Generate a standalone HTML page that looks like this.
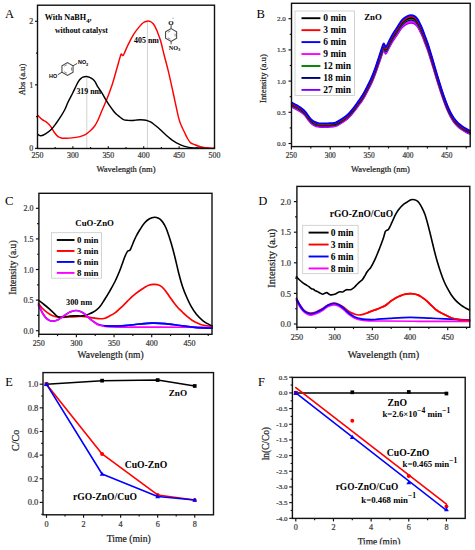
<!DOCTYPE html>
<html><head><meta charset="utf-8"><style>
html,body{margin:0;padding:0;background:#fff;width:475px;height:550px;overflow:hidden;}
svg{display:block;font-family:"Liberation Serif",serif;}
</style></head><body>
<svg width="475" height="550" viewBox="0 0 475 550">
<rect width="475" height="550" fill="#fff"/>
<text x="5" y="18.4" font-size="12.5" text-anchor="start" font-weight="normal" fill="#000" font-family="Liberation Serif">A</text>
<line x1="86.8" y1="77.5" x2="86.8" y2="148.5" stroke="#d2d2d2" stroke-width="1.0"/>
<line x1="147.4" y1="21.5" x2="147.4" y2="148.5" stroke="#d2d2d2" stroke-width="1.0"/>
<path d="M38,115.6 C38.72,116.28 40.95,118.67 42.3,119.7 C43.65,120.73 44.93,120.97 46.1,121.8 C47.27,122.63 48.35,123.63 49.3,124.7 C50.25,125.77 50.85,126.77 51.8,128.2 C52.75,129.63 53.95,131.88 55,133.3 C56.05,134.72 57.05,135.92 58.1,136.7 C59.15,137.48 59.98,137.75 61.3,138 C62.62,138.25 63.9,138.27 66,138.2 C68.1,138.13 71.57,137.87 73.9,137.6 C76.23,137.33 78.1,137.1 80,136.6 C81.9,136.1 83.63,135.53 85.3,134.6 C86.97,133.67 88.43,132.43 90,131 C91.57,129.57 93.28,128 94.7,126 C96.12,124 97.23,121.7 98.5,119 C99.77,116.3 100.9,113.13 102.3,109.8 C103.7,106.47 105.22,103.32 106.9,99 C108.58,94.68 110.75,88.95 112.4,83.9 C114.05,78.85 115.48,73.28 116.8,68.7 C118.12,64.12 119.55,58.85 120.3,56.4 C121.05,53.95 120.88,54.12 121.3,54 C121.72,53.88 122.25,55.93 122.8,55.7 C123.35,55.47 123.67,54.53 124.6,52.6 C125.53,50.67 126.82,47.25 128.4,44.1 C129.98,40.95 132.2,36.7 134.1,33.7 C136,30.7 138.23,27.97 139.8,26.1 C141.37,24.23 142.3,23.32 143.5,22.5 C144.7,21.68 145.92,21.38 147,21.2 C148.08,21.02 149,21 150,21.4 C151,21.8 152.17,22.73 153,23.6 C153.83,24.47 154.28,25.27 155,26.6 C155.72,27.93 156.37,29.23 157.3,31.6 C158.23,33.97 159.45,36.87 160.6,40.8 C161.75,44.73 162.93,50.23 164.2,55.2 C165.47,60.17 166.75,64.55 168.2,70.6 C169.65,76.65 171.17,83.67 172.9,91.5 C174.63,99.33 177.17,111.85 178.6,117.6 C180.03,123.35 180.48,123.47 181.5,126 C182.52,128.53 183.7,130.72 184.7,132.8 C185.7,134.88 186.5,136.82 187.5,138.5 C188.5,140.18 189.53,141.88 190.7,142.9 C191.87,143.92 193.15,144.05 194.5,144.6 C195.85,145.15 197.22,145.73 198.8,146.2 C200.38,146.67 202.32,147.12 204,147.4 C205.68,147.68 207.23,147.77 208.9,147.9 C210.57,148.03 213.15,148.15 214,148.2" fill="none" stroke="#ff0000" stroke-width="1.45" stroke-linejoin="round" stroke-linecap="round"/>
<path d="M38,134.5 C38.5,134.72 39.75,135.9 41,135.8 C42.25,135.7 43.8,134.95 45.5,133.9 C47.2,132.85 49.42,131.28 51.2,129.5 C52.98,127.72 54.52,125.52 56.2,123.2 C57.88,120.88 59.83,117.92 61.3,115.6 C62.77,113.28 63.85,111.6 65,109.3 C66.15,107 66.93,104.48 68.2,101.8 C69.47,99.12 71.27,95.88 72.6,93.2 C73.93,90.52 75.22,87.68 76.2,85.7 C77.18,83.72 77.78,82.43 78.5,81.3 C79.22,80.17 79.77,79.58 80.5,78.9 C81.23,78.22 81.93,77.6 82.9,77.2 C83.87,76.8 85.17,76.48 86.3,76.5 C87.43,76.52 88.68,76.9 89.7,77.3 C90.72,77.7 91.52,78.18 92.4,78.9 C93.28,79.62 94.07,80.22 95,81.6 C95.93,82.98 96.9,85.42 98,87.2 C99.1,88.98 100.38,90.37 101.6,92.3 C102.82,94.23 104.08,96.73 105.3,98.8 C106.52,100.87 107.68,102.87 108.9,104.7 C110.12,106.53 111.38,108.23 112.6,109.8 C113.82,111.37 115,112.9 116.2,114.1 C117.4,115.3 118.58,116.08 119.8,117 C121.02,117.92 122.15,119.03 123.5,119.6 C124.85,120.17 126.48,120.25 127.9,120.4 C129.32,120.55 130.65,120.55 132,120.5 C133.35,120.45 134.63,120.22 136,120.1 C137.37,119.98 138.87,119.82 140.2,119.8 C141.53,119.78 142.82,119.87 144,120 C145.18,120.13 146.13,120.23 147.3,120.6 C148.47,120.97 149.82,121.52 151,122.2 C152.18,122.88 153.15,123.73 154.4,124.7 C155.65,125.67 157.17,126.83 158.5,128 C159.83,129.17 161.07,130.45 162.4,131.7 C163.73,132.95 165.15,134.32 166.5,135.5 C167.85,136.68 169.17,137.78 170.5,138.8 C171.83,139.82 173.15,140.75 174.5,141.6 C175.85,142.45 177.27,143.23 178.6,143.9 C179.93,144.57 181.15,145.1 182.5,145.6 C183.85,146.1 185.28,146.57 186.7,146.9 C188.12,147.23 189.32,147.42 191,147.6 C192.68,147.78 194.8,147.9 196.8,148 C198.8,148.1 201.97,148.17 203,148.2" fill="none" stroke="#000" stroke-width="1.45" stroke-linejoin="round" stroke-linecap="round"/>
<rect x="37.5" y="5.2" width="177" height="143.3" fill="none" stroke="#111" stroke-width="1.4"/>
<line x1="37.5" y1="148.5" x2="37.5" y2="146.3" stroke="#111" stroke-width="1.15"/>
<line x1="72.9" y1="148.5" x2="72.9" y2="146.3" stroke="#111" stroke-width="1.15"/>
<line x1="108.3" y1="148.5" x2="108.3" y2="146.3" stroke="#111" stroke-width="1.15"/>
<line x1="143.7" y1="148.5" x2="143.7" y2="146.3" stroke="#111" stroke-width="1.15"/>
<line x1="179.1" y1="148.5" x2="179.1" y2="146.3" stroke="#111" stroke-width="1.15"/>
<line x1="214.5" y1="148.5" x2="214.5" y2="146.3" stroke="#111" stroke-width="1.15"/>
<line x1="55.2" y1="148.5" x2="55.2" y2="146.9" stroke="#111" stroke-width="1.15"/>
<line x1="90.6" y1="148.5" x2="90.6" y2="146.9" stroke="#111" stroke-width="1.15"/>
<line x1="126" y1="148.5" x2="126" y2="146.9" stroke="#111" stroke-width="1.15"/>
<line x1="161.4" y1="148.5" x2="161.4" y2="146.9" stroke="#111" stroke-width="1.15"/>
<line x1="196.8" y1="148.5" x2="196.8" y2="146.9" stroke="#111" stroke-width="1.15"/>
<line x1="37.5" y1="148.4" x2="35" y2="148.4" stroke="#111" stroke-width="1.15"/>
<line x1="37.5" y1="84.85" x2="35" y2="84.85" stroke="#111" stroke-width="1.15"/>
<line x1="37.5" y1="21.3" x2="35" y2="21.3" stroke="#111" stroke-width="1.15"/>
<line x1="37.5" y1="116.62" x2="36" y2="116.62" stroke="#111" stroke-width="1.15"/>
<line x1="37.5" y1="53.08" x2="36" y2="53.08" stroke="#111" stroke-width="1.15"/>
<text x="37.5" y="158" font-size="7.9" text-anchor="middle" font-weight="normal" fill="#3a3a3a" font-family="Liberation Serif" stroke="#3a3a3a" stroke-width="0.22">250</text>
<text x="72.9" y="158" font-size="7.9" text-anchor="middle" font-weight="normal" fill="#3a3a3a" font-family="Liberation Serif" stroke="#3a3a3a" stroke-width="0.22">300</text>
<text x="108.3" y="158" font-size="7.9" text-anchor="middle" font-weight="normal" fill="#3a3a3a" font-family="Liberation Serif" stroke="#3a3a3a" stroke-width="0.22">350</text>
<text x="143.7" y="158" font-size="7.9" text-anchor="middle" font-weight="normal" fill="#3a3a3a" font-family="Liberation Serif" stroke="#3a3a3a" stroke-width="0.22">400</text>
<text x="179.1" y="158" font-size="7.9" text-anchor="middle" font-weight="normal" fill="#3a3a3a" font-family="Liberation Serif" stroke="#3a3a3a" stroke-width="0.22">450</text>
<text x="214.5" y="158" font-size="7.9" text-anchor="middle" font-weight="normal" fill="#3a3a3a" font-family="Liberation Serif" stroke="#3a3a3a" stroke-width="0.22">500</text>
<text x="33.2" y="151.1" font-size="8" text-anchor="end" font-weight="normal" fill="#3a3a3a" font-family="Liberation Serif" stroke="#3a3a3a" stroke-width="0.22">0</text>
<text x="33.2" y="87.55" font-size="8" text-anchor="end" font-weight="normal" fill="#3a3a3a" font-family="Liberation Serif" stroke="#3a3a3a" stroke-width="0.22">1</text>
<text x="33.2" y="24" font-size="8" text-anchor="end" font-weight="normal" fill="#3a3a3a" font-family="Liberation Serif" stroke="#3a3a3a" stroke-width="0.22">2</text>
<text x="126" y="171.8" font-size="8.5" text-anchor="middle" font-weight="normal" fill="#222" font-family="Liberation Serif" stroke="#222" stroke-width="0.22">Wavelength (nm)</text>
<text x="24.6" y="79.5" font-size="8.5" text-anchor="middle" font-weight="normal" fill="#222" font-family="Liberation Serif" transform="rotate(-90 24.6 79.5)" stroke="#222" stroke-width="0.22">Abs (a.u)</text>
<text x="44.7" y="20.3" font-size="8.2" font-weight="bold" font-family="Liberation Serif">With NaBH<tspan font-size="6.6" dy="2.3">4</tspan><tspan dy="-2.3">,</tspan></text>
<text x="55" y="32.5" font-size="7.75" text-anchor="start" font-weight="bold" fill="#000" font-family="Liberation Serif">without catalyst</text>
<text x="76.4" y="93.7" font-size="7.9" text-anchor="start" font-weight="bold" fill="#000" font-family="Liberation Serif">319 nm</text>
<text x="134.1" y="42.6" font-size="7.9" text-anchor="start" font-weight="bold" fill="#000" font-family="Liberation Serif">405 nm</text>
<path d="M67.5,62.6 L73.04,65.8 L73.04,72.2 L67.5,75.4 L61.96,72.2 L61.96,65.8 Z" fill="none" stroke="#444" stroke-width="1.05"/>
<line x1="64.23" y1="66.28" x2="66.78" y2="64.81" stroke="#777" stroke-width="0.85"/>
<line x1="71.49" y1="67.53" x2="71.49" y2="70.47" stroke="#777" stroke-width="0.85"/>
<line x1="66.78" y1="73.19" x2="64.23" y2="71.72" stroke="#777" stroke-width="0.85"/>
<line x1="61.96" y1="72.2" x2="57.8" y2="74.8" stroke="#444" stroke-width="1.0"/>
<line x1="73.04" y1="65.8" x2="77.2" y2="63.4" stroke="#444" stroke-width="1.0"/>
<text x="49" y="77.6" font-size="5.4" text-anchor="start" font-weight="bold" fill="#000" font-family="Liberation Sans">HO</text>
<text x="78" y="64.4" font-size="5.4" font-weight="bold" font-family="Liberation Sans">NO<tspan font-size="4" dy="1.3">2</tspan></text>
<path d="M171.1,28.65 L176.64,31.85 L176.64,38.25 L171.1,41.45 L165.56,38.25 L165.56,31.85 Z" fill="none" stroke="#444" stroke-width="1.05"/>
<line x1="167.83" y1="32.33" x2="170.38" y2="30.86" stroke="#777" stroke-width="0.85"/>
<line x1="175.09" y1="33.58" x2="175.09" y2="36.52" stroke="#777" stroke-width="0.85"/>
<line x1="170.38" y1="39.24" x2="167.83" y2="37.77" stroke="#777" stroke-width="0.85"/>
<line x1="171.1" y1="28.65" x2="171.1" y2="24.8" stroke="#444" stroke-width="1.0"/>
<line x1="171.1" y1="41.45" x2="171.1" y2="44.3" stroke="#444" stroke-width="1.0"/>
<text x="171" y="24.6" font-size="6.9" text-anchor="middle" font-weight="bold" fill="#000" font-family="Liberation Serif">O</text>
<line x1="172.3" y1="18.2" x2="173.8" y2="18.2" stroke="#555" stroke-width="0.5"/>
<text x="168.8" y="49.6" font-size="6.2" font-weight="bold" font-family="Liberation Serif">NO<tspan font-size="4.6" dy="1.3">3</tspan></text>
<text x="256.5" y="18.2" font-size="12.6" text-anchor="start" font-weight="normal" fill="#000" font-family="Liberation Serif">B</text>
<path d="M291.8,106.89 C292.67,107.34 295.55,108.81 297,109.62 C298.45,110.43 299.45,111.05 300.5,111.76 C301.55,112.48 302.38,113.1 303.3,113.91 C304.22,114.72 305.13,115.61 306,116.64 C306.87,117.66 307.58,118.91 308.5,120.05 C309.42,121.19 310.48,122.54 311.5,123.46 C312.52,124.39 313.52,125.07 314.6,125.61 C315.68,126.14 316.77,126.45 318,126.68 C319.23,126.91 320.33,126.92 322,126.97 C323.67,127.02 325.75,127.1 328,126.97 C330.25,126.84 333.33,126.81 335.5,126.19 C337.67,125.57 339.12,124.41 341,123.27 C342.88,122.13 345.13,120.73 346.8,119.37 C348.47,118 349.63,116.61 351,115.08 C352.37,113.55 353.75,111.8 355,110.2 C356.25,108.61 357.33,107.12 358.5,105.52 C359.67,103.93 360.92,102.29 362,100.65 C363.08,99.01 364,97.45 365,95.68 C366,93.9 367,91.95 368,90.02 C369,88.09 370.1,85.97 371,84.07 C371.9,82.17 372.57,80.68 373.4,78.61 C374.23,76.55 375.15,74.05 376,71.69 C376.85,69.33 377.67,66.9 378.5,64.48 C379.33,62.05 380.28,59.28 381,57.16 C381.72,55.05 382.33,53 382.8,51.8 C383.27,50.6 383.47,49.95 383.8,49.95 C384.13,49.95 384.5,51.15 384.8,51.8 C385.1,52.45 385.23,53.85 385.6,53.85 C385.97,53.85 386.35,52.95 387,51.8 C387.65,50.65 388.67,48.5 389.5,46.93 C390.33,45.35 391.08,43.89 392,42.34 C392.92,40.8 394,39.17 395,37.66 C396,36.15 397,34.77 398,33.27 C399,31.78 400,29.94 401,28.69 C402,27.44 402.92,26.61 404,25.77 C405.08,24.92 406.33,24.11 407.5,23.62 C408.67,23.13 409.83,22.84 411,22.84 C412.17,22.84 413.42,23 414.5,23.62 C415.58,24.24 416.62,25.38 417.5,26.55 C418.38,27.72 419.07,29.25 419.8,30.64 C420.53,32.04 421.12,33.11 421.9,34.93 C422.68,36.75 423.55,39.11 424.5,41.56 C425.45,44.02 426.6,46.81 427.6,49.65 C428.6,52.5 429.53,55.55 430.5,58.63 C431.47,61.7 432.45,64.95 433.4,68.08 C434.35,71.22 435.25,74.36 436.2,77.44 C437.15,80.53 438.13,83.6 439.1,86.61 C440.07,89.61 441.05,92.69 442,95.48 C442.95,98.28 443.87,100.89 444.8,103.38 C445.73,105.86 446.65,108.22 447.6,110.4 C448.55,112.58 449.43,114.49 450.5,116.44 C451.57,118.39 452.72,120.38 454,122.1 C455.28,123.82 456.78,125.46 458.2,126.78 C459.62,128.09 461.2,129.12 462.5,130 C463.8,130.87 464.75,131.38 466,132.04 C467.25,132.71 469.33,133.67 470,133.99" fill="none" stroke="#8000ff" stroke-width="1.9" stroke-linejoin="round" stroke-linecap="round"/>
<path d="M291.8,106.19 C292.67,106.65 295.55,108.12 297,108.93 C298.45,109.75 299.45,110.37 300.5,111.09 C301.55,111.81 302.38,112.43 303.3,113.25 C304.22,114.06 305.13,114.96 306,115.99 C306.87,117.02 307.58,118.28 308.5,119.42 C309.42,120.56 310.48,121.92 311.5,122.85 C312.52,123.78 313.52,124.47 314.6,125.01 C315.68,125.55 316.77,125.86 318,126.08 C319.23,126.31 320.33,126.33 322,126.38 C323.67,126.43 325.75,126.51 328,126.38 C330.25,126.25 333.33,126.21 335.5,125.59 C337.67,124.97 339.12,123.8 341,122.65 C342.88,121.51 345.13,120.11 346.8,118.73 C348.47,117.36 349.63,115.96 351,114.42 C352.37,112.89 353.75,111.12 355,109.52 C356.25,107.92 357.33,106.42 358.5,104.82 C359.67,103.22 360.92,101.57 362,99.92 C363.08,98.27 364,96.7 365,94.92 C366,93.14 367,91.18 368,89.24 C369,87.29 370.1,85.17 371,83.26 C371.9,81.35 372.57,79.84 373.4,77.77 C374.23,75.7 375.15,73.18 376,70.81 C376.85,68.44 377.67,65.99 378.5,63.56 C379.33,61.13 380.28,58.33 381,56.21 C381.72,54.09 382.33,52.03 382.8,50.82 C383.27,49.61 383.47,48.96 383.8,48.96 C384.13,48.96 384.5,50.17 384.8,50.82 C385.1,51.47 385.23,52.88 385.6,52.88 C385.97,52.88 386.35,51.98 387,50.82 C387.65,49.66 388.67,47.5 389.5,45.92 C390.33,44.34 391.08,42.87 392,41.31 C392.92,39.76 394,38.13 395,36.61 C396,35.09 397,33.7 398,32.2 C399,30.7 400,28.85 401,27.59 C402,26.34 402.92,25.5 404,24.65 C405.08,23.8 406.33,22.99 407.5,22.5 C408.67,22.01 409.83,21.71 411,21.71 C412.17,21.71 413.42,21.88 414.5,22.5 C415.58,23.12 416.62,24.26 417.5,25.44 C418.38,26.61 419.07,28.15 419.8,29.55 C420.53,30.96 421.12,32.04 421.9,33.87 C422.68,35.7 423.55,38.06 424.5,40.53 C425.45,43 426.6,45.81 427.6,48.66 C428.6,51.52 429.53,54.59 430.5,57.68 C431.47,60.77 432.45,64.03 433.4,67.19 C434.35,70.34 435.25,73.49 436.2,76.59 C437.15,79.7 438.13,82.78 439.1,85.81 C440.07,88.83 441.05,91.91 442,94.72 C442.95,97.53 443.87,100.16 444.8,102.66 C445.73,105.16 446.65,107.53 447.6,109.72 C448.55,111.91 449.43,113.83 450.5,115.79 C451.57,117.75 452.72,119.75 454,121.48 C455.28,123.21 456.78,124.86 458.2,126.18 C459.62,127.51 461.2,128.53 462.5,129.42 C463.8,130.3 464.75,130.8 466,131.47 C467.25,132.14 469.33,133.11 470,133.43" fill="none" stroke="#ff00ff" stroke-width="1.9" stroke-linejoin="round" stroke-linecap="round"/>
<path d="M291.8,105.2 C292.67,105.66 295.55,107.14 297,107.97 C298.45,108.79 299.45,109.42 300.5,110.14 C301.55,110.87 302.38,111.5 303.3,112.32 C304.22,113.15 305.13,114.06 306,115.09 C306.87,116.13 307.58,117.4 308.5,118.56 C309.42,119.71 310.48,121.08 311.5,122.02 C312.52,122.97 313.52,123.66 314.6,124.2 C315.68,124.75 316.77,125.06 318,125.29 C319.23,125.52 320.33,125.54 322,125.59 C323.67,125.64 325.75,125.72 328,125.59 C330.25,125.46 333.33,125.42 335.5,124.8 C337.67,124.17 339.12,122.98 341,121.83 C342.88,120.67 345.13,119.25 346.8,117.87 C348.47,116.48 349.63,115.06 351,113.51 C352.37,111.96 353.75,110.18 355,108.56 C356.25,106.94 357.33,105.43 358.5,103.81 C359.67,102.19 360.92,100.53 362,98.86 C363.08,97.19 364,95.61 365,93.81 C366,92.01 367,90.03 368,88.07 C369,86.1 370.1,83.96 371,82.03 C371.9,80.1 372.57,78.58 373.4,76.48 C374.23,74.39 375.15,71.85 376,69.46 C376.85,67.06 377.67,64.59 378.5,62.13 C379.33,59.67 380.28,56.85 381,54.71 C381.72,52.56 382.33,50.48 382.8,49.26 C383.27,48.04 383.47,47.38 383.8,47.38 C384.13,47.38 384.5,48.6 384.8,49.26 C385.1,49.92 385.23,51.34 385.6,51.34 C385.97,51.34 386.35,50.43 387,49.26 C387.65,48.09 388.67,45.91 389.5,44.31 C390.33,42.71 391.08,41.22 392,39.66 C392.92,38.09 394,36.44 395,34.91 C396,33.37 397,31.97 398,30.45 C399,28.93 400,27.07 401,25.8 C402,24.53 402.92,23.69 404,22.83 C405.08,21.97 406.33,21.14 407.5,20.65 C408.67,20.15 409.83,19.86 411,19.86 C412.17,19.86 413.42,20.02 414.5,20.65 C415.58,21.28 416.62,22.43 417.5,23.62 C418.38,24.81 419.07,26.36 419.8,27.78 C420.53,29.2 421.12,30.28 421.9,32.13 C422.68,33.98 423.55,36.37 424.5,38.87 C425.45,41.36 426.6,44.19 427.6,47.08 C428.6,49.97 429.53,53.07 430.5,56.19 C431.47,59.31 432.45,62.61 433.4,65.79 C434.35,68.98 435.25,72.16 436.2,75.3 C437.15,78.43 438.13,81.55 439.1,84.6 C440.07,87.66 441.05,90.77 442,93.61 C442.95,96.45 443.87,99.11 444.8,101.63 C445.73,104.16 446.65,106.55 447.6,108.76 C448.55,110.97 449.43,112.92 450.5,114.9 C451.57,116.88 452.72,118.89 454,120.64 C455.28,122.39 456.78,124.05 458.2,125.39 C459.62,126.73 461.2,127.77 462.5,128.66 C463.8,129.55 464.75,130.06 466,130.74 C467.25,131.41 469.33,132.39 470,132.72" fill="none" stroke="#000080" stroke-width="1.9" stroke-linejoin="round" stroke-linecap="round"/>
<path d="M291.8,104.6 C292.67,105.06 295.55,106.55 297,107.38 C298.45,108.21 299.45,108.84 300.5,109.57 C301.55,110.3 302.38,110.93 303.3,111.76 C304.22,112.59 305.13,113.5 306,114.55 C306.87,115.59 307.58,116.87 308.5,118.03 C309.42,119.19 310.48,120.57 311.5,121.51 C312.52,122.46 313.52,123.15 314.6,123.7 C315.68,124.25 316.77,124.56 318,124.8 C319.23,125.03 320.33,125.04 322,125.09 C323.67,125.14 325.75,125.23 328,125.09 C330.25,124.96 333.33,124.93 335.5,124.3 C337.67,123.67 339.12,122.47 341,121.31 C342.88,120.15 345.13,118.73 346.8,117.33 C348.47,115.94 349.63,114.51 351,112.96 C352.37,111.4 353.75,109.61 355,107.98 C356.25,106.36 357.33,104.83 358.5,103.2 C359.67,101.58 360.92,99.9 362,98.23 C363.08,96.55 364,94.96 365,93.16 C366,91.35 367,89.36 368,87.38 C369,85.41 370.1,83.25 371,81.31 C371.9,79.37 372.57,77.85 373.4,75.74 C374.23,73.64 375.15,71.08 376,68.68 C376.85,66.27 377.67,63.79 378.5,61.32 C379.33,58.84 380.28,56.01 381,53.85 C381.72,51.7 382.33,49.61 382.8,48.38 C383.27,47.15 383.47,46.49 383.8,46.49 C384.13,46.49 384.5,47.72 384.8,48.38 C385.1,49.04 385.23,50.47 385.6,50.47 C385.97,50.47 386.35,49.56 387,48.38 C387.65,47.2 388.67,45.01 389.5,43.4 C390.33,41.8 391.08,40.3 392,38.73 C392.92,37.15 394,35.49 395,33.95 C396,32.41 397,31 398,29.48 C399,27.95 400,26.08 401,24.8 C402,23.52 402.92,22.68 404,21.81 C405.08,20.95 406.33,20.12 407.5,19.62 C408.67,19.13 409.83,18.83 411,18.83 C412.17,18.83 413.42,18.99 414.5,19.62 C415.58,20.25 416.62,21.42 417.5,22.61 C418.38,23.8 419.07,25.36 419.8,26.79 C420.53,28.21 421.12,29.31 421.9,31.17 C422.68,33.02 423.55,35.43 424.5,37.93 C425.45,40.44 426.6,43.29 427.6,46.19 C428.6,49.09 429.53,52.21 430.5,55.34 C431.47,58.48 432.45,61.8 433.4,65 C434.35,68.2 435.25,71.4 436.2,74.55 C437.15,77.7 438.13,80.83 439.1,83.9 C440.07,86.97 441.05,90.1 442,92.96 C442.95,95.81 443.87,98.48 444.8,101.02 C445.73,103.55 446.65,105.96 447.6,108.18 C448.55,110.4 449.43,112.36 450.5,114.35 C451.57,116.34 452.72,118.36 454,120.12 C455.28,121.88 456.78,123.55 458.2,124.9 C459.62,126.24 461.2,127.28 462.5,128.18 C463.8,129.07 464.75,129.59 466,130.27 C467.25,130.95 469.33,131.93 470,132.26" fill="none" stroke="#008000" stroke-width="1.9" stroke-linejoin="round" stroke-linecap="round"/>
<path d="M291.8,104 C292.67,104.47 295.55,105.97 297,106.8 C298.45,107.63 299.45,108.27 300.5,109 C301.55,109.73 302.38,110.37 303.3,111.2 C304.22,112.03 305.13,112.95 306,114 C306.87,115.05 307.58,116.33 308.5,117.5 C309.42,118.67 310.48,120.05 311.5,121 C312.52,121.95 313.52,122.65 314.6,123.2 C315.68,123.75 316.77,124.07 318,124.3 C319.23,124.53 320.33,124.55 322,124.6 C323.67,124.65 325.75,124.73 328,124.6 C330.25,124.47 333.33,124.43 335.5,123.8 C337.67,123.17 339.12,121.97 341,120.8 C342.88,119.63 345.13,118.2 346.8,116.8 C348.47,115.4 349.63,113.97 351,112.4 C352.37,110.83 353.75,109.03 355,107.4 C356.25,105.77 357.33,104.23 358.5,102.6 C359.67,100.97 360.92,99.28 362,97.6 C363.08,95.92 364,94.32 365,92.5 C366,90.68 367,88.68 368,86.7 C369,84.72 370.1,82.55 371,80.6 C371.9,78.65 372.57,77.12 373.4,75 C374.23,72.88 375.15,70.32 376,67.9 C376.85,65.48 377.67,62.98 378.5,60.5 C379.33,58.02 380.28,55.17 381,53 C381.72,50.83 382.33,48.73 382.8,47.5 C383.27,46.27 383.47,45.6 383.8,45.6 C384.13,45.6 384.5,46.83 384.8,47.5 C385.1,48.17 385.23,49.6 385.6,49.6 C385.97,49.6 386.35,48.68 387,47.5 C387.65,46.32 388.67,44.12 389.5,42.5 C390.33,40.88 391.08,39.38 392,37.8 C392.92,36.22 394,34.55 395,33 C396,31.45 397,30.03 398,28.5 C399,26.97 400,25.08 401,23.8 C402,22.52 402.92,21.67 404,20.8 C405.08,19.93 406.33,19.1 407.5,18.6 C408.67,18.1 409.83,17.8 411,17.8 C412.17,17.8 413.42,17.97 414.5,18.6 C415.58,19.23 416.62,20.4 417.5,21.6 C418.38,22.8 419.07,24.37 419.8,25.8 C420.53,27.23 421.12,28.33 421.9,30.2 C422.68,32.07 423.55,34.48 424.5,37 C425.45,39.52 426.6,42.38 427.6,45.3 C428.6,48.22 429.53,51.35 430.5,54.5 C431.47,57.65 432.45,60.98 433.4,64.2 C434.35,67.42 435.25,70.63 436.2,73.8 C437.15,76.97 438.13,80.12 439.1,83.2 C440.07,86.28 441.05,89.43 442,92.3 C442.95,95.17 443.87,97.85 444.8,100.4 C445.73,102.95 446.65,105.37 447.6,107.6 C448.55,109.83 449.43,111.8 450.5,113.8 C451.57,115.8 452.72,117.83 454,119.6 C455.28,121.37 456.78,123.05 458.2,124.4 C459.62,125.75 461.2,126.8 462.5,127.7 C463.8,128.6 464.75,129.12 466,129.8 C467.25,130.48 469.33,131.47 470,131.8" fill="none" stroke="#000000" stroke-width="1.9" stroke-linejoin="round" stroke-linecap="round"/>
<path d="M291.8,103.3 C292.67,103.77 295.55,105.28 297,106.12 C298.45,106.95 299.45,107.59 300.5,108.33 C301.55,109.06 302.38,109.7 303.3,110.54 C304.22,111.38 305.13,112.3 306,113.35 C306.87,114.41 307.58,115.7 308.5,116.87 C309.42,118.04 310.48,119.43 311.5,120.39 C312.52,121.34 313.52,122.05 314.6,122.6 C315.68,123.15 316.77,123.47 318,123.7 C319.23,123.94 320.33,123.96 322,124.01 C323.67,124.06 325.75,124.14 328,124.01 C330.25,123.87 333.33,123.84 335.5,123.2 C337.67,122.56 339.12,121.36 341,120.19 C342.88,119.01 345.13,117.57 346.8,116.17 C348.47,114.76 349.63,113.32 351,111.74 C352.37,110.17 353.75,108.36 355,106.72 C356.25,105.08 357.33,103.54 358.5,101.9 C359.67,100.25 360.92,98.56 362,96.87 C363.08,95.18 364,93.57 365,91.75 C366,89.92 367,87.91 368,85.92 C369,83.92 370.1,81.75 371,79.79 C371.9,77.83 372.57,76.28 373.4,74.16 C374.23,72.03 375.15,69.45 376,67.02 C376.85,64.59 377.67,62.08 378.5,59.59 C379.33,57.09 380.28,54.23 381,52.05 C381.72,49.87 382.33,47.76 382.8,46.52 C383.27,45.28 383.47,44.61 383.8,44.61 C384.13,44.61 384.5,45.85 384.8,46.52 C385.1,47.19 385.23,48.63 385.6,48.63 C385.97,48.63 386.35,47.71 387,46.52 C387.65,45.33 388.67,43.12 389.5,41.5 C390.33,39.87 391.08,38.36 392,36.77 C392.92,35.18 394,33.51 395,31.95 C396,30.39 397,28.97 398,27.43 C399,25.88 400,23.99 401,22.7 C402,21.41 402.92,20.56 404,19.69 C405.08,18.82 406.33,17.98 407.5,17.48 C408.67,16.97 409.83,16.67 411,16.67 C412.17,16.67 413.42,16.84 414.5,17.48 C415.58,18.11 416.62,19.28 417.5,20.49 C418.38,21.7 419.07,23.27 419.8,24.71 C420.53,26.15 421.12,27.26 421.9,29.13 C422.68,31.01 423.55,33.44 424.5,35.97 C425.45,38.5 426.6,41.38 427.6,44.31 C428.6,47.24 429.53,50.39 430.5,53.56 C431.47,56.72 432.45,60.07 433.4,63.3 C434.35,66.54 435.25,69.77 436.2,72.95 C437.15,76.13 438.13,79.3 439.1,82.4 C440.07,85.5 441.05,88.66 442,91.54 C442.95,94.42 443.87,97.12 444.8,99.68 C445.73,102.25 446.65,104.68 447.6,106.92 C448.55,109.17 449.43,111.14 450.5,113.15 C451.57,115.16 452.72,117.21 454,118.98 C455.28,120.76 456.78,122.45 458.2,123.8 C459.62,125.16 461.2,126.22 462.5,127.12 C463.8,128.03 464.75,128.54 466,129.23 C467.25,129.92 469.33,130.91 470,131.24" fill="none" stroke="#ff0000" stroke-width="1.9" stroke-linejoin="round" stroke-linecap="round"/>
<path d="M291.8,102.53 C292.67,103 295.55,104.52 297,105.36 C298.45,106.2 299.45,106.84 300.5,107.59 C301.55,108.33 302.38,108.97 303.3,109.81 C304.22,110.66 305.13,111.58 306,112.65 C306.87,113.71 307.58,115.01 308.5,116.19 C309.42,117.37 310.48,118.77 311.5,119.73 C312.52,120.69 313.52,121.4 314.6,121.96 C315.68,122.51 316.77,122.83 318,123.07 C319.23,123.31 320.33,123.32 322,123.37 C323.67,123.42 325.75,123.51 328,123.37 C330.25,123.24 333.33,123.2 335.5,122.56 C337.67,121.92 339.12,120.71 341,119.53 C342.88,118.35 345.13,116.9 346.8,115.48 C348.47,114.06 349.63,112.61 351,111.03 C352.37,109.44 353.75,107.62 355,105.97 C356.25,104.31 357.33,102.76 358.5,101.11 C359.67,99.46 360.92,97.75 362,96.05 C363.08,94.35 364,92.73 365,90.89 C366,89.05 367,87.03 368,85.02 C369,83.01 370.1,80.82 371,78.85 C371.9,76.87 372.57,75.32 373.4,73.18 C374.23,71.04 375.15,68.44 376,65.99 C376.85,63.55 377.67,61.02 378.5,58.5 C379.33,55.99 380.28,53.11 381,50.91 C381.72,48.72 382.33,46.6 382.8,45.35 C383.27,44.1 383.47,43.43 383.8,43.43 C384.13,43.43 384.5,44.67 384.8,45.35 C385.1,46.02 385.23,47.47 385.6,47.47 C385.97,47.47 386.35,46.55 387,45.35 C387.65,44.15 388.67,41.92 389.5,40.29 C390.33,38.65 391.08,37.13 392,35.53 C392.92,33.93 394,32.24 395,30.67 C396,29.11 397,27.67 398,26.12 C399,24.57 400,22.66 401,21.36 C402,20.06 402.92,19.2 404,18.33 C405.08,17.45 406.33,16.61 407.5,16.1 C408.67,15.6 409.83,15.29 411,15.29 C412.17,15.29 413.42,15.46 414.5,16.1 C415.58,16.74 416.62,17.92 417.5,19.14 C418.38,20.35 419.07,21.94 419.8,23.39 C420.53,24.84 421.12,25.95 421.9,27.84 C422.68,29.73 423.55,32.18 424.5,34.72 C425.45,37.27 426.6,40.17 427.6,43.12 C428.6,46.07 429.53,49.24 430.5,52.43 C431.47,55.62 432.45,58.99 433.4,62.25 C434.35,65.5 435.25,68.76 436.2,71.96 C437.15,75.17 438.13,78.36 439.1,81.48 C440.07,84.6 441.05,87.78 442,90.69 C442.95,93.59 443.87,96.3 444.8,98.88 C445.73,101.46 446.65,103.91 447.6,106.17 C448.55,108.43 449.43,110.42 450.5,112.44 C451.57,114.47 452.72,116.53 454,118.31 C455.28,120.1 456.78,121.8 458.2,123.17 C459.62,124.54 461.2,125.6 462.5,126.51 C463.8,127.42 464.75,127.94 466,128.64 C467.25,129.33 469.33,130.32 470,130.66" fill="none" stroke="#0000ff" stroke-width="1.9" stroke-linejoin="round" stroke-linecap="round"/>
<rect x="291.5" y="3.3" width="178.7" height="143.3" fill="none" stroke="#111" stroke-width="1.4"/>
<line x1="291.4" y1="146.6" x2="291.4" y2="149.5" stroke="#111" stroke-width="1.15"/>
<line x1="330.25" y1="146.6" x2="330.25" y2="149.5" stroke="#111" stroke-width="1.15"/>
<line x1="369.1" y1="146.6" x2="369.1" y2="149.5" stroke="#111" stroke-width="1.15"/>
<line x1="407.95" y1="146.6" x2="407.95" y2="149.5" stroke="#111" stroke-width="1.15"/>
<line x1="446.8" y1="146.6" x2="446.8" y2="149.5" stroke="#111" stroke-width="1.15"/>
<line x1="310.82" y1="146.6" x2="310.82" y2="148.4" stroke="#111" stroke-width="1.15"/>
<line x1="349.67" y1="146.6" x2="349.67" y2="148.4" stroke="#111" stroke-width="1.15"/>
<line x1="388.52" y1="146.6" x2="388.52" y2="148.4" stroke="#111" stroke-width="1.15"/>
<line x1="427.38" y1="146.6" x2="427.38" y2="148.4" stroke="#111" stroke-width="1.15"/>
<line x1="466.23" y1="146.6" x2="466.23" y2="148.4" stroke="#111" stroke-width="1.15"/>
<line x1="291.5" y1="143.5" x2="288.5" y2="143.5" stroke="#111" stroke-width="1.15"/>
<line x1="291.5" y1="112.3" x2="288.5" y2="112.3" stroke="#111" stroke-width="1.15"/>
<line x1="291.5" y1="81.1" x2="288.5" y2="81.1" stroke="#111" stroke-width="1.15"/>
<line x1="291.5" y1="49.9" x2="288.5" y2="49.9" stroke="#111" stroke-width="1.15"/>
<line x1="291.5" y1="18.7" x2="288.5" y2="18.7" stroke="#111" stroke-width="1.15"/>
<line x1="291.5" y1="127.9" x2="289.7" y2="127.9" stroke="#111" stroke-width="1.15"/>
<line x1="291.5" y1="96.7" x2="289.7" y2="96.7" stroke="#111" stroke-width="1.15"/>
<line x1="291.5" y1="65.5" x2="289.7" y2="65.5" stroke="#111" stroke-width="1.15"/>
<line x1="291.5" y1="34.3" x2="289.7" y2="34.3" stroke="#111" stroke-width="1.15"/>
<text x="291.4" y="158" font-size="7.4" text-anchor="middle" font-weight="normal" fill="#3a3a3a" font-family="Liberation Serif" stroke="#3a3a3a" stroke-width="0.22">250</text>
<text x="330.25" y="158" font-size="7.4" text-anchor="middle" font-weight="normal" fill="#3a3a3a" font-family="Liberation Serif" stroke="#3a3a3a" stroke-width="0.22">300</text>
<text x="369.1" y="158" font-size="7.4" text-anchor="middle" font-weight="normal" fill="#3a3a3a" font-family="Liberation Serif" stroke="#3a3a3a" stroke-width="0.22">350</text>
<text x="407.95" y="158" font-size="7.4" text-anchor="middle" font-weight="normal" fill="#3a3a3a" font-family="Liberation Serif" stroke="#3a3a3a" stroke-width="0.22">400</text>
<text x="446.8" y="158" font-size="7.4" text-anchor="middle" font-weight="normal" fill="#3a3a3a" font-family="Liberation Serif" stroke="#3a3a3a" stroke-width="0.22">450</text>
<text x="285.8" y="145.9" font-size="7.0" text-anchor="end" font-weight="normal" fill="#3a3a3a" font-family="Liberation Serif" stroke="#3a3a3a" stroke-width="0.22">0.0</text>
<text x="285.8" y="114.7" font-size="7.0" text-anchor="end" font-weight="normal" fill="#3a3a3a" font-family="Liberation Serif" stroke="#3a3a3a" stroke-width="0.22">0.5</text>
<text x="285.8" y="83.5" font-size="7.0" text-anchor="end" font-weight="normal" fill="#3a3a3a" font-family="Liberation Serif" stroke="#3a3a3a" stroke-width="0.22">1.0</text>
<text x="285.8" y="52.3" font-size="7.0" text-anchor="end" font-weight="normal" fill="#3a3a3a" font-family="Liberation Serif" stroke="#3a3a3a" stroke-width="0.22">1.5</text>
<text x="285.8" y="21.1" font-size="7.0" text-anchor="end" font-weight="normal" fill="#3a3a3a" font-family="Liberation Serif" stroke="#3a3a3a" stroke-width="0.22">2.0</text>
<text x="380.4" y="172.4" font-size="8.5" text-anchor="middle" font-weight="normal" fill="#222" font-family="Liberation Serif" stroke="#222" stroke-width="0.22">Wavelength (nm)</text>
<text x="265.5" y="78.5" font-size="8.7" text-anchor="middle" font-weight="normal" fill="#222" font-family="Liberation Serif" transform="rotate(-90 265.5 78.5)" stroke="#222" stroke-width="0.22">Intensity (a.u)</text>
<text x="364.2" y="19.5" font-size="8.8" text-anchor="start" font-weight="bold" fill="#000" font-family="Liberation Serif">ZnO</text>
<rect x="295" y="11" width="59.5" height="84.5" fill="#fff" stroke="#c8c8c8" stroke-width="0.8"/>
<line x1="301.5" y1="18.2" x2="320.4" y2="18.2" stroke="#000" stroke-width="1.9"/>
<text x="323.3" y="21.34" font-size="9.5" text-anchor="start" font-weight="bold" fill="#000" font-family="Liberation Serif">0 min</text>
<line x1="301.5" y1="30.15" x2="320.4" y2="30.15" stroke="#ff0000" stroke-width="1.9"/>
<text x="323.3" y="33.28" font-size="9.5" text-anchor="start" font-weight="bold" fill="#000" font-family="Liberation Serif">3 min</text>
<line x1="301.5" y1="42.1" x2="320.4" y2="42.1" stroke="#0000ff" stroke-width="1.9"/>
<text x="323.3" y="45.23" font-size="9.5" text-anchor="start" font-weight="bold" fill="#000" font-family="Liberation Serif">6 min</text>
<line x1="301.5" y1="54.05" x2="320.4" y2="54.05" stroke="#ff00ff" stroke-width="1.9"/>
<text x="323.3" y="57.18" font-size="9.5" text-anchor="start" font-weight="bold" fill="#000" font-family="Liberation Serif">9 min</text>
<line x1="301.5" y1="66" x2="320.4" y2="66" stroke="#008000" stroke-width="1.9"/>
<text x="323.3" y="69.14" font-size="9.5" text-anchor="start" font-weight="bold" fill="#000" font-family="Liberation Serif">12 min</text>
<line x1="301.5" y1="77.95" x2="320.4" y2="77.95" stroke="#000080" stroke-width="1.9"/>
<text x="323.3" y="81.09" font-size="9.5" text-anchor="start" font-weight="bold" fill="#000" font-family="Liberation Serif">18 min</text>
<line x1="301.5" y1="89.9" x2="320.4" y2="89.9" stroke="#8000ff" stroke-width="1.9"/>
<text x="323.3" y="93.03" font-size="9.5" text-anchor="start" font-weight="bold" fill="#000" font-family="Liberation Serif">27 min</text>
<text x="4.9" y="205.3" font-size="12.8" text-anchor="start" font-weight="normal" fill="#000" font-family="Liberation Serif">C</text>
<path d="M38.5,303.2 C39.08,304 40.52,306.43 42,308 C43.48,309.57 45.73,311.37 47.4,312.6 C49.07,313.83 50.43,314.68 52,315.4 C53.57,316.12 55.3,316.58 56.8,316.9 C58.3,317.22 59.42,317.25 61,317.3 C62.58,317.35 64.63,317.27 66.3,317.2 C67.97,317.13 69.42,317 71,316.9 C72.58,316.8 74.3,316.67 75.8,316.6 C77.3,316.53 78.42,316.5 80,316.5 C81.58,316.5 83.47,316.42 85.3,316.6 C87.13,316.78 88.8,317.25 91,317.6 C93.2,317.95 96.17,318.6 98.5,318.7 C100.83,318.8 103.08,318.68 105,318.2 C106.92,317.72 108.33,316.68 110,315.8 C111.67,314.92 113.5,313.98 115,312.9 C116.5,311.82 117.6,310.57 119,309.3 C120.4,308.03 121.98,306.65 123.4,305.3 C124.82,303.95 126.1,302.6 127.5,301.2 C128.9,299.8 130.38,298.22 131.8,296.9 C133.22,295.58 134.58,294.42 136,293.3 C137.42,292.18 138.88,291.17 140.3,290.2 C141.72,289.23 143.1,288.32 144.5,287.5 C145.9,286.68 147.17,285.83 148.7,285.3 C150.23,284.77 152.27,284.4 153.7,284.3 C155.13,284.2 156.17,284.43 157.3,284.7 C158.43,284.97 159.38,285.18 160.5,285.9 C161.62,286.62 162.88,287.77 164,289 C165.12,290.23 166.12,291.8 167.2,293.3 C168.28,294.8 169.38,296.42 170.5,298 C171.62,299.58 172.65,301.17 173.9,302.8 C175.15,304.43 176.6,306.27 178,307.8 C179.4,309.33 181.02,310.77 182.3,312 C183.58,313.23 184.57,314.2 185.7,315.2 C186.83,316.2 188.05,317.15 189.1,318 C190.15,318.85 191.02,319.63 192,320.3 C192.98,320.97 193.67,321.35 195,322 C196.33,322.65 198.33,323.62 200,324.2 C201.67,324.78 203,325.12 205,325.5 C207,325.88 210.83,326.33 212,326.5" fill="none" stroke="#ff0000" stroke-width="1.7" stroke-linejoin="round" stroke-linecap="round"/>
<path d="M38.5,300.3 C39.42,301 42.2,303.08 44,304.5 C45.8,305.92 47.8,307.5 49.3,308.8 C50.8,310.1 51.97,311.3 53,312.3 C54.03,313.3 54.53,314.02 55.5,314.8 C56.47,315.58 57.8,316.62 58.8,317 C59.8,317.38 60.55,317.15 61.5,317.1 C62.45,317.05 63.25,316.85 64.5,316.7 C65.75,316.55 67.42,316.33 69,316.2 C70.58,316.07 71.75,315.95 74,315.9 C76.25,315.85 80.45,316.03 82.5,315.9 C84.55,315.77 85.13,315.45 86.3,315.1 C87.47,314.75 88.4,314.28 89.5,313.8 C90.6,313.32 91.73,312.87 92.9,312.2 C94.07,311.53 95.32,310.75 96.5,309.8 C97.68,308.85 98.75,308.05 100,306.5 C101.25,304.95 102.35,303.12 104,300.5 C105.65,297.88 108.07,293.97 109.9,290.8 C111.73,287.63 113.42,284.72 115,281.5 C116.58,278.28 118.23,274.33 119.4,271.5 C120.57,268.67 121.15,266.83 122,264.5 C122.85,262.17 123.7,259.5 124.5,257.5 C125.3,255.5 126.25,253.58 126.8,252.5 C127.35,251.42 127.43,251.32 127.8,251 C128.17,250.68 128.57,250.85 129,250.6 C129.43,250.35 129.73,250.73 130.4,249.5 C131.07,248.27 132.07,245.37 133,243.2 C133.93,241.03 134.83,238.78 136,236.5 C137.17,234.22 138.58,231.75 140,229.5 C141.42,227.25 142.92,224.78 144.5,223 C146.08,221.22 147.82,219.75 149.5,218.8 C151.18,217.85 153.1,217.38 154.6,217.3 C156.1,217.22 157.35,217.75 158.5,218.3 C159.65,218.85 160.55,219.57 161.5,220.6 C162.45,221.63 163.28,222.85 164.2,224.5 C165.12,226.15 165.83,227.37 167,230.5 C168.17,233.63 169.87,238.8 171.2,243.3 C172.53,247.8 173.73,252.47 175,257.5 C176.27,262.53 177.55,268.67 178.8,273.5 C180.05,278.33 181.22,282.62 182.5,286.5 C183.78,290.38 185.08,293.52 186.5,296.8 C187.92,300.08 189.32,303.23 191,306.2 C192.68,309.17 194.6,312.17 196.6,314.6 C198.6,317.03 200.65,319.02 203,320.8 C205.35,322.58 209.2,324.47 210.7,325.3 C212.2,326.13 211.78,325.72 212,325.8" fill="none" stroke="#000" stroke-width="1.6" stroke-linejoin="round" stroke-linecap="round"/>
<path d="M38.5,305 C38.83,305.67 39.83,307.67 40.5,309 C41.17,310.33 41.67,311.6 42.5,313 C43.33,314.4 44.42,316.2 45.5,317.4 C46.58,318.6 47.75,319.57 49,320.2 C50.25,320.83 51.5,321.27 53,321.2 C54.5,321.13 56.1,320.75 58,319.8 C59.9,318.85 62.4,316.8 64.4,315.5 C66.4,314.2 68.1,312.83 70,312 C71.9,311.17 73.97,310.53 75.8,310.5 C77.63,310.47 79.42,311.13 81,311.8 C82.58,312.47 83.63,313.2 85.3,314.5 C86.97,315.8 89.38,318.27 91,319.6 C92.62,320.93 93.75,321.68 95,322.5 C96.25,323.32 96.83,323.95 98.5,324.5 C100.17,325.05 102.78,325.52 105,325.8 C107.22,326.08 108.47,326.23 111.8,326.2 C115.13,326.17 120.3,325.97 125,325.6 C129.7,325.23 135.5,324.4 140,324 C144.5,323.6 147.83,323.27 152,323.2 C156.17,323.13 160.33,323.22 165,323.6 C169.67,323.98 175,324.88 180,325.5 C185,326.12 189.67,326.85 195,327.3 C200.33,327.75 209.17,328.05 212,328.2" fill="none" stroke="#0000ff" stroke-width="1.7" stroke-linejoin="round" stroke-linecap="round"/>
<path d="M38.5,305 C38.83,305.67 39.83,307.67 40.5,309 C41.17,310.33 41.67,311.6 42.5,313 C43.33,314.4 44.42,316.2 45.5,317.4 C46.58,318.6 47.75,319.57 49,320.2 C50.25,320.83 51.5,321.27 53,321.2 C54.5,321.13 56.1,320.75 58,319.8 C59.9,318.85 62.4,316.8 64.4,315.5 C66.4,314.2 68.1,312.83 70,312 C71.9,311.17 73.97,310.53 75.8,310.5 C77.63,310.47 79.42,311.13 81,311.8 C82.58,312.47 83.63,313.17 85.3,314.5 C86.97,315.83 89.38,318.42 91,319.8 C92.62,321.18 93.75,321.93 95,322.8 C96.25,323.67 96.83,324.38 98.5,325 C100.17,325.62 102.78,326.18 105,326.5 C107.22,326.82 108.47,326.8 111.8,326.9 C115.13,327 116.97,327.05 125,327.1 C133.03,327.15 145.5,327.17 160,327.2 C174.5,327.23 203.33,327.28 212,327.3" fill="none" stroke="#ff00ff" stroke-width="1.7" stroke-linejoin="round" stroke-linecap="round"/>
<path d="M105,325.8 C106.13,325.87 108.47,326.23 111.8,326.2 C115.13,326.17 120.3,325.97 125,325.6 C129.7,325.23 135.5,324.4 140,324 C144.5,323.6 147.83,323.27 152,323.2 C156.17,323.13 160.33,323.22 165,323.6 C169.67,323.98 175,324.88 180,325.5 C185,326.12 189.67,326.85 195,327.3 C200.33,327.75 209.17,328.05 212,328.2" fill="none" stroke="#0000ff" stroke-width="1.7" stroke-linejoin="round" stroke-linecap="round"/>
<rect x="38.9" y="193.3" width="173.1" height="141" fill="none" stroke="#111" stroke-width="1.4"/>
<line x1="38.7" y1="334.3" x2="38.7" y2="337.2" stroke="#111" stroke-width="1.15"/>
<line x1="76.38" y1="334.3" x2="76.38" y2="337.2" stroke="#111" stroke-width="1.15"/>
<line x1="114.05" y1="334.3" x2="114.05" y2="337.2" stroke="#111" stroke-width="1.15"/>
<line x1="151.72" y1="334.3" x2="151.72" y2="337.2" stroke="#111" stroke-width="1.15"/>
<line x1="189.4" y1="334.3" x2="189.4" y2="337.2" stroke="#111" stroke-width="1.15"/>
<line x1="57.54" y1="334.3" x2="57.54" y2="336.1" stroke="#111" stroke-width="1.15"/>
<line x1="95.21" y1="334.3" x2="95.21" y2="336.1" stroke="#111" stroke-width="1.15"/>
<line x1="132.89" y1="334.3" x2="132.89" y2="336.1" stroke="#111" stroke-width="1.15"/>
<line x1="170.56" y1="334.3" x2="170.56" y2="336.1" stroke="#111" stroke-width="1.15"/>
<line x1="208.24" y1="334.3" x2="208.24" y2="336.1" stroke="#111" stroke-width="1.15"/>
<line x1="38.9" y1="330.7" x2="35.9" y2="330.7" stroke="#111" stroke-width="1.15"/>
<line x1="38.9" y1="300.1" x2="35.9" y2="300.1" stroke="#111" stroke-width="1.15"/>
<line x1="38.9" y1="269.5" x2="35.9" y2="269.5" stroke="#111" stroke-width="1.15"/>
<line x1="38.9" y1="238.9" x2="35.9" y2="238.9" stroke="#111" stroke-width="1.15"/>
<line x1="38.9" y1="208.3" x2="35.9" y2="208.3" stroke="#111" stroke-width="1.15"/>
<line x1="38.9" y1="315.4" x2="37.1" y2="315.4" stroke="#111" stroke-width="1.15"/>
<line x1="38.9" y1="284.8" x2="37.1" y2="284.8" stroke="#111" stroke-width="1.15"/>
<line x1="38.9" y1="254.2" x2="37.1" y2="254.2" stroke="#111" stroke-width="1.15"/>
<line x1="38.9" y1="223.6" x2="37.1" y2="223.6" stroke="#111" stroke-width="1.15"/>
<text x="38.7" y="345.7" font-size="8.0" text-anchor="middle" font-weight="normal" fill="#3a3a3a" font-family="Liberation Serif" stroke="#3a3a3a" stroke-width="0.22">250</text>
<text x="76.38" y="345.7" font-size="8.0" text-anchor="middle" font-weight="normal" fill="#3a3a3a" font-family="Liberation Serif" stroke="#3a3a3a" stroke-width="0.22">300</text>
<text x="114.05" y="345.7" font-size="8.0" text-anchor="middle" font-weight="normal" fill="#3a3a3a" font-family="Liberation Serif" stroke="#3a3a3a" stroke-width="0.22">350</text>
<text x="151.72" y="345.7" font-size="8.0" text-anchor="middle" font-weight="normal" fill="#3a3a3a" font-family="Liberation Serif" stroke="#3a3a3a" stroke-width="0.22">400</text>
<text x="189.4" y="345.7" font-size="8.0" text-anchor="middle" font-weight="normal" fill="#3a3a3a" font-family="Liberation Serif" stroke="#3a3a3a" stroke-width="0.22">450</text>
<text x="33.4" y="333.7" font-size="8.0" text-anchor="end" font-weight="normal" fill="#3a3a3a" font-family="Liberation Serif" stroke="#3a3a3a" stroke-width="0.22">0.0</text>
<text x="33.4" y="303.1" font-size="8.0" text-anchor="end" font-weight="normal" fill="#3a3a3a" font-family="Liberation Serif" stroke="#3a3a3a" stroke-width="0.22">0.5</text>
<text x="33.4" y="272.5" font-size="8.0" text-anchor="end" font-weight="normal" fill="#3a3a3a" font-family="Liberation Serif" stroke="#3a3a3a" stroke-width="0.22">1.0</text>
<text x="33.4" y="241.9" font-size="8.0" text-anchor="end" font-weight="normal" fill="#3a3a3a" font-family="Liberation Serif" stroke="#3a3a3a" stroke-width="0.22">1.5</text>
<text x="33.4" y="211.3" font-size="8.0" text-anchor="end" font-weight="normal" fill="#3a3a3a" font-family="Liberation Serif" stroke="#3a3a3a" stroke-width="0.22">2.0</text>
<text x="110.6" y="357.7" font-size="9.5" text-anchor="middle" font-weight="normal" fill="#222" font-family="Liberation Serif" stroke="#222" stroke-width="0.22">Wavelength (nm)</text>
<text x="15.5" y="267.5" font-size="9.7" text-anchor="middle" font-weight="normal" fill="#222" font-family="Liberation Serif" transform="rotate(-90 15.5 267.5)" stroke="#222" stroke-width="0.22">Intensity (a.u)</text>
<text x="75.3" y="225.5" font-size="8.8" text-anchor="start" font-weight="bold" fill="#000" font-family="Liberation Serif">CuO-ZnO</text>
<text x="66" y="305.2" font-size="8.3" text-anchor="start" font-weight="bold" fill="#000" font-family="Liberation Serif">300 nm</text>
<rect x="51.4" y="232.7" width="50" height="45.5" fill="#fff" stroke="#c8c8c8" stroke-width="0.8"/>
<line x1="56.8" y1="240" x2="74.5" y2="240" stroke="#000" stroke-width="1.9"/>
<text x="77" y="242.94" font-size="8.9" text-anchor="start" font-weight="bold" fill="#000" font-family="Liberation Serif">0 min</text>
<line x1="56.8" y1="250.97" x2="74.5" y2="250.97" stroke="#ff0000" stroke-width="1.9"/>
<text x="77" y="253.91" font-size="8.9" text-anchor="start" font-weight="bold" fill="#000" font-family="Liberation Serif">3 min</text>
<line x1="56.8" y1="261.94" x2="74.5" y2="261.94" stroke="#0000ff" stroke-width="1.9"/>
<text x="77" y="264.88" font-size="8.9" text-anchor="start" font-weight="bold" fill="#000" font-family="Liberation Serif">6 min</text>
<line x1="56.8" y1="272.91" x2="74.5" y2="272.91" stroke="#ff00ff" stroke-width="1.9"/>
<text x="77" y="275.85" font-size="8.9" text-anchor="start" font-weight="bold" fill="#000" font-family="Liberation Serif">8 min</text>
<text x="258.4" y="204.7" font-size="12.2" text-anchor="start" font-weight="normal" fill="#000" font-family="Liberation Serif">D</text>
<path d="M296.5,298.4 C297.08,299.5 298.83,303.1 300,305 C301.17,306.9 302.33,308.58 303.5,309.8 C304.67,311.02 305.75,311.73 307,312.3 C308.25,312.87 309.5,313.25 311,313.2 C312.5,313.15 314.1,312.73 316,312 C317.9,311.27 320.4,309.97 322.4,308.8 C324.4,307.63 326.1,305.93 328,305 C329.9,304.07 332.05,303.33 333.8,303.2 C335.55,303.07 336.92,303.57 338.5,304.2 C340.08,304.83 341.88,306.03 343.3,307 C344.72,307.97 345.75,309.07 347,310 C348.25,310.93 349.47,311.88 350.8,312.6 C352.13,313.32 353.68,313.9 355,314.3 C356.32,314.7 357.37,314.98 358.7,315 C360.03,315.02 361.45,314.8 363,314.4 C364.55,314 366.33,313.23 368,312.6 C369.67,311.97 371.57,311.13 373,310.6 C374.43,310.07 375.35,309.87 376.6,309.4 C377.85,308.93 379.1,308.4 380.5,307.8 C381.9,307.2 383.75,306.52 385,305.8 C386.25,305.08 386.95,304.33 388,303.5 C389.05,302.67 390.22,301.58 391.3,300.8 C392.38,300.02 393.45,299.43 394.5,298.8 C395.55,298.17 396.52,297.53 397.6,297 C398.68,296.47 399.93,296.02 401,295.6 C402.07,295.18 402.92,294.8 404,294.5 C405.08,294.2 406.35,293.95 407.5,293.8 C408.65,293.65 409.73,293.57 410.9,293.6 C412.07,293.63 413.35,293.78 414.5,294 C415.65,294.22 416.72,294.47 417.8,294.9 C418.88,295.33 419.93,295.93 421,296.6 C422.07,297.27 423.12,298.07 424.2,298.9 C425.28,299.73 426.45,300.65 427.5,301.6 C428.55,302.55 429.47,303.6 430.5,304.6 C431.53,305.6 432.65,306.65 433.7,307.6 C434.75,308.55 435.67,309.47 436.8,310.3 C437.93,311.13 439.23,311.92 440.5,312.6 C441.77,313.28 442.55,313.5 444.4,314.4 C446.25,315.3 449,317.1 451.6,318 C454.2,318.9 457.02,319.42 460,319.8 C462.98,320.18 467.92,320.22 469.5,320.3" fill="none" stroke="#ff0000" stroke-width="1.7" stroke-linejoin="round" stroke-linecap="round"/>
<path d="M296.5,300.3 C297.08,301.42 298.83,305.13 300,307 C301.17,308.87 302.33,310.33 303.5,311.5 C304.67,312.67 305.75,313.4 307,314 C308.25,314.6 309.5,315.13 311,315.1 C312.5,315.07 314.1,314.57 316,313.8 C317.9,313.03 320.4,311.72 322.4,310.5 C324.4,309.28 326.1,307.45 328,306.5 C329.9,305.55 332.05,304.88 333.8,304.8 C335.55,304.72 336.92,305.25 338.5,306 C340.08,306.75 341.88,308.17 343.3,309.3 C344.72,310.43 345.75,311.73 347,312.8 C348.25,313.87 349.47,314.8 350.8,315.7 C352.13,316.6 353.42,317.52 355,318.2 C356.58,318.88 358.47,319.4 360.3,319.8 C362.13,320.2 362.72,320.4 366,320.6 C369.28,320.8 371,320.88 380,321 C389,321.12 405.08,321.23 420,321.3 C434.92,321.37 461.25,321.38 469.5,321.4" fill="none" stroke="#ff00ff" stroke-width="1.7" stroke-linejoin="round" stroke-linecap="round"/>
<path d="M296.5,299 C297.08,300.08 298.83,303.62 300,305.5 C301.17,307.38 302.33,309.08 303.5,310.3 C304.67,311.52 305.75,312.22 307,312.8 C308.25,313.38 309.5,313.85 311,313.8 C312.5,313.75 314.1,313.25 316,312.5 C317.9,311.75 320.4,310.5 322.4,309.3 C324.4,308.1 326.1,306.27 328,305.3 C329.9,304.33 332.05,303.58 333.8,303.5 C335.55,303.42 336.92,304.05 338.5,304.8 C340.08,305.55 341.88,306.88 343.3,308 C344.72,309.12 345.75,310.42 347,311.5 C348.25,312.58 349.47,313.58 350.8,314.5 C352.13,315.42 353.42,316.3 355,317 C356.58,317.7 358.47,318.3 360.3,318.7 C362.13,319.1 363.55,319.27 366,319.4 C368.45,319.53 371,319.68 375,319.5 C379,319.32 384.12,318.67 390,318.3 C395.88,317.93 403.63,317.32 410.3,317.3 C416.97,317.28 424.22,317.93 430,318.2 C435.78,318.47 438.42,318.58 445,318.9 C451.58,319.22 465.42,319.9 469.5,320.1" fill="none" stroke="#0000ff" stroke-width="1.7" stroke-linejoin="round" stroke-linecap="round"/>
<path d="M368,312.6 C368.83,312.27 371.57,311.13 373,310.6 C374.43,310.07 375.35,309.87 376.6,309.4 C377.85,308.93 379.1,308.4 380.5,307.8 C381.9,307.2 383.75,306.52 385,305.8 C386.25,305.08 386.95,304.33 388,303.5 C389.05,302.67 390.22,301.58 391.3,300.8 C392.38,300.02 393.45,299.43 394.5,298.8 C395.55,298.17 396.52,297.53 397.6,297 C398.68,296.47 399.93,296.02 401,295.6 C402.07,295.18 402.92,294.8 404,294.5 C405.08,294.2 406.35,293.95 407.5,293.8 C408.65,293.65 409.73,293.57 410.9,293.6 C412.07,293.63 413.35,293.78 414.5,294 C415.65,294.22 416.72,294.47 417.8,294.9 C418.88,295.33 419.93,295.93 421,296.6 C422.07,297.27 423.12,298.07 424.2,298.9 C425.28,299.73 426.45,300.65 427.5,301.6 C428.55,302.55 429.47,303.6 430.5,304.6 C431.53,305.6 432.65,306.65 433.7,307.6 C434.75,308.55 435.67,309.47 436.8,310.3 C437.93,311.13 439.23,311.92 440.5,312.6 C441.77,313.28 442.55,313.5 444.4,314.4 C446.25,315.3 449,317.1 451.6,318 C454.2,318.9 457.02,319.42 460,319.8 C462.98,320.18 467.92,320.22 469.5,320.3" fill="none" stroke="#ff0000" stroke-width="1.7" stroke-linejoin="round" stroke-linecap="round"/>
<path d="M296.5,276.6 C296.92,277.08 298.03,278.55 299,279.5 C299.97,280.45 301.22,281.47 302.3,282.3 C303.38,283.13 304.45,283.82 305.5,284.5 C306.55,285.18 307.6,285.7 308.6,286.4 C309.6,287.1 310.68,288.22 311.5,288.7 C312.32,289.18 312.92,288.98 313.5,289.3 C314.08,289.62 314.33,290.22 315,290.6 C315.67,290.98 316.67,291.2 317.5,291.6 C318.33,292 319.12,292.57 320,293 C320.88,293.43 322,294.17 322.8,294.2 C323.6,294.23 324.13,293.47 324.8,293.2 C325.47,292.93 326.13,292.47 326.8,292.6 C327.47,292.73 328.15,293.62 328.8,294 C329.45,294.38 330,294.8 330.7,294.9 C331.4,295 332.2,294.73 333,294.6 C333.8,294.47 334.75,294.4 335.5,294.1 C336.25,293.8 336.72,293.18 337.5,292.8 C338.28,292.42 339.37,291.93 340.2,291.8 C341.03,291.67 341.78,292.17 342.5,292 C343.22,291.83 343.83,291.18 344.5,290.8 C345.17,290.42 345.75,289.87 346.5,289.7 C347.25,289.53 348.2,289.85 349,289.8 C349.8,289.75 350.58,289.67 351.3,289.4 C352.02,289.13 352.68,288.67 353.3,288.2 C353.92,287.73 354.3,287.3 355,286.6 C355.7,285.9 356.72,284.78 357.5,284 C358.28,283.22 359.07,282.47 359.7,281.9 C360.33,281.33 360.8,281.05 361.3,280.6 C361.8,280.15 362.12,280 362.7,279.2 C363.28,278.4 364.12,276.95 364.8,275.8 C365.48,274.65 366.18,273.27 366.8,272.3 C367.42,271.33 367.9,270.72 368.5,270 C369.1,269.28 369.68,269.03 370.4,268 C371.12,266.97 372.02,265.27 372.8,263.8 C373.58,262.33 374.32,260.92 375.1,259.2 C375.88,257.48 376.7,255.45 377.5,253.5 C378.3,251.55 379.2,249.28 379.9,247.5 C380.6,245.72 381.12,244.38 381.7,242.8 C382.28,241.22 382.93,239.43 383.4,238 C383.87,236.57 384.17,235.3 384.5,234.2 C384.83,233.1 385.05,232.03 385.4,231.4 C385.75,230.77 386.1,230.72 386.6,230.4 C387.1,230.08 387.83,230.12 388.4,229.5 C388.97,228.88 389.45,227.8 390,226.7 C390.55,225.6 391.13,224.17 391.7,222.9 C392.27,221.63 392.85,220.32 393.4,219.1 C393.95,217.88 394.43,216.72 395,215.6 C395.57,214.48 396.22,213.37 396.8,212.4 C397.38,211.43 397.93,210.58 398.5,209.8 C399.07,209.02 399.37,208.6 400.2,207.7 C401.03,206.8 402.38,205.32 403.5,204.4 C404.62,203.48 405.63,202.98 406.9,202.2 C408.17,201.42 409.83,200.12 411.1,199.7 C412.37,199.28 413.38,199.42 414.5,199.7 C415.62,199.98 416.82,200.55 417.8,201.4 C418.78,202.25 419.55,203.43 420.4,204.8 C421.25,206.17 422.13,207.97 422.9,209.6 C423.67,211.23 424.08,211.78 425,214.6 C425.92,217.42 427.32,222.43 428.4,226.5 C429.48,230.57 430.47,234.78 431.5,239 C432.53,243.22 433.57,247.8 434.6,251.8 C435.63,255.8 436.65,259.47 437.7,263 C438.75,266.53 439.85,269.95 440.9,273 C441.95,276.05 442.95,278.82 444,281.3 C445.05,283.78 446.03,285.7 447.2,287.9 C448.37,290.1 449.6,292.42 451,294.5 C452.4,296.58 453.93,298.62 455.6,300.4 C457.27,302.18 459.35,303.93 461,305.2 C462.65,306.47 464.08,307.2 465.5,308 C466.92,308.8 468.83,309.67 469.5,310" fill="none" stroke="#000" stroke-width="1.6" stroke-linejoin="round" stroke-linecap="round"/>
<rect x="296.9" y="186.4" width="172.9" height="140.9" fill="none" stroke="#111" stroke-width="1.4"/>
<line x1="297" y1="327.3" x2="297" y2="330.2" stroke="#111" stroke-width="1.15"/>
<line x1="334.68" y1="327.3" x2="334.68" y2="330.2" stroke="#111" stroke-width="1.15"/>
<line x1="372.35" y1="327.3" x2="372.35" y2="330.2" stroke="#111" stroke-width="1.15"/>
<line x1="410.02" y1="327.3" x2="410.02" y2="330.2" stroke="#111" stroke-width="1.15"/>
<line x1="447.7" y1="327.3" x2="447.7" y2="330.2" stroke="#111" stroke-width="1.15"/>
<line x1="315.84" y1="327.3" x2="315.84" y2="329.1" stroke="#111" stroke-width="1.15"/>
<line x1="353.51" y1="327.3" x2="353.51" y2="329.1" stroke="#111" stroke-width="1.15"/>
<line x1="391.19" y1="327.3" x2="391.19" y2="329.1" stroke="#111" stroke-width="1.15"/>
<line x1="428.86" y1="327.3" x2="428.86" y2="329.1" stroke="#111" stroke-width="1.15"/>
<line x1="466.54" y1="327.3" x2="466.54" y2="329.1" stroke="#111" stroke-width="1.15"/>
<line x1="296.9" y1="324" x2="293.9" y2="324" stroke="#111" stroke-width="1.15"/>
<line x1="296.9" y1="293.4" x2="293.9" y2="293.4" stroke="#111" stroke-width="1.15"/>
<line x1="296.9" y1="262.8" x2="293.9" y2="262.8" stroke="#111" stroke-width="1.15"/>
<line x1="296.9" y1="232.2" x2="293.9" y2="232.2" stroke="#111" stroke-width="1.15"/>
<line x1="296.9" y1="201.6" x2="293.9" y2="201.6" stroke="#111" stroke-width="1.15"/>
<line x1="296.9" y1="308.7" x2="295.1" y2="308.7" stroke="#111" stroke-width="1.15"/>
<line x1="296.9" y1="278.1" x2="295.1" y2="278.1" stroke="#111" stroke-width="1.15"/>
<line x1="296.9" y1="247.5" x2="295.1" y2="247.5" stroke="#111" stroke-width="1.15"/>
<line x1="296.9" y1="216.9" x2="295.1" y2="216.9" stroke="#111" stroke-width="1.15"/>
<text x="297" y="339.5" font-size="8.2" text-anchor="middle" font-weight="normal" fill="#3a3a3a" font-family="Liberation Serif" stroke="#3a3a3a" stroke-width="0.22">250</text>
<text x="334.68" y="339.5" font-size="8.2" text-anchor="middle" font-weight="normal" fill="#3a3a3a" font-family="Liberation Serif" stroke="#3a3a3a" stroke-width="0.22">300</text>
<text x="372.35" y="339.5" font-size="8.2" text-anchor="middle" font-weight="normal" fill="#3a3a3a" font-family="Liberation Serif" stroke="#3a3a3a" stroke-width="0.22">350</text>
<text x="410.02" y="339.5" font-size="8.2" text-anchor="middle" font-weight="normal" fill="#3a3a3a" font-family="Liberation Serif" stroke="#3a3a3a" stroke-width="0.22">400</text>
<text x="447.7" y="339.5" font-size="8.2" text-anchor="middle" font-weight="normal" fill="#3a3a3a" font-family="Liberation Serif" stroke="#3a3a3a" stroke-width="0.22">450</text>
<text x="291" y="327.1" font-size="8.5" text-anchor="end" font-weight="normal" fill="#3a3a3a" font-family="Liberation Serif" stroke="#3a3a3a" stroke-width="0.22">0.0</text>
<text x="291" y="296.5" font-size="8.5" text-anchor="end" font-weight="normal" fill="#3a3a3a" font-family="Liberation Serif" stroke="#3a3a3a" stroke-width="0.22">0.5</text>
<text x="291" y="265.9" font-size="8.5" text-anchor="end" font-weight="normal" fill="#3a3a3a" font-family="Liberation Serif" stroke="#3a3a3a" stroke-width="0.22">1.0</text>
<text x="291" y="235.3" font-size="8.5" text-anchor="end" font-weight="normal" fill="#3a3a3a" font-family="Liberation Serif" stroke="#3a3a3a" stroke-width="0.22">1.5</text>
<text x="291" y="204.7" font-size="8.5" text-anchor="end" font-weight="normal" fill="#3a3a3a" font-family="Liberation Serif" stroke="#3a3a3a" stroke-width="0.22">2.0</text>
<text x="383.4" y="357.7" font-size="10.3" text-anchor="middle" font-weight="normal" fill="#222" font-family="Liberation Serif" stroke="#222" stroke-width="0.22">Wavelength (nm)</text>
<text x="274.7" y="258.2" font-size="10.5" text-anchor="middle" font-weight="normal" fill="#222" font-family="Liberation Serif" transform="rotate(-90 274.7 258.2)" stroke="#222" stroke-width="0.22">Intensity (a.u)</text>
<text x="329.7" y="217.3" font-size="9.5" text-anchor="start" font-weight="bold" fill="#000" font-family="Liberation Serif">rGO-ZnO/CuO</text>
<rect x="302.7" y="225.3" width="55.4" height="48.4" fill="#fff" stroke="#c8c8c8" stroke-width="0.8"/>
<line x1="308.6" y1="232.6" x2="328.6" y2="232.6" stroke="#000" stroke-width="1.9"/>
<text x="330.7" y="235.73" font-size="9.5" text-anchor="start" font-weight="bold" fill="#000" font-family="Liberation Serif">0 min</text>
<line x1="308.6" y1="244.55" x2="328.6" y2="244.55" stroke="#ff0000" stroke-width="1.9"/>
<text x="330.7" y="247.68" font-size="9.5" text-anchor="start" font-weight="bold" fill="#000" font-family="Liberation Serif">3 min</text>
<line x1="308.6" y1="256.5" x2="328.6" y2="256.5" stroke="#0000ff" stroke-width="1.9"/>
<text x="330.7" y="259.63" font-size="9.5" text-anchor="start" font-weight="bold" fill="#000" font-family="Liberation Serif">6 min</text>
<line x1="308.6" y1="268.45" x2="328.6" y2="268.45" stroke="#ff00ff" stroke-width="1.9"/>
<text x="330.7" y="271.58" font-size="9.5" text-anchor="start" font-weight="bold" fill="#000" font-family="Liberation Serif">8 min</text>
<text x="5.2" y="385.8" font-size="12.4" text-anchor="start" font-weight="normal" fill="#000" font-family="Liberation Serif">E</text>
<path d="M46.5,384.2 L102.09,380.65 L157.68,380.06 L194.74,385.97" fill="none" stroke="#000" stroke-width="1.5" stroke-linejoin="round" stroke-linecap="round"/>
<rect x="44.65" y="382.35" width="3.7" height="3.7" fill="#000"/>
<rect x="100.24" y="378.8" width="3.7" height="3.7" fill="#000"/>
<rect x="155.83" y="378.21" width="3.7" height="3.7" fill="#000"/>
<rect x="192.89" y="384.12" width="3.7" height="3.7" fill="#000"/>
<path d="M46.5,384.2 L102.09,453.94 L157.68,494.95 L194.74,500.04" fill="none" stroke="#ff0000" stroke-width="1.6" stroke-linejoin="round" stroke-linecap="round"/>
<circle cx="46.5" cy="384.2" r="1.97" fill="#ff0000"/>
<circle cx="102.09" cy="453.94" r="1.97" fill="#ff0000"/>
<circle cx="157.68" cy="494.95" r="1.97" fill="#ff0000"/>
<circle cx="194.74" cy="500.04" r="1.97" fill="#ff0000"/>
<path d="M46.5,384.2 L102.09,474.03 L157.68,496.49 L194.74,500.04" fill="none" stroke="#0000ff" stroke-width="1.6" stroke-linejoin="round" stroke-linecap="round"/>
<path d="M46.5,381.8 L48.9,386 L44.1,386 Z" fill="#0000ff"/>
<path d="M102.09,471.63 L104.49,475.83 L99.69,475.83 Z" fill="#0000ff"/>
<path d="M157.68,494.09 L160.08,498.29 L155.28,498.29 Z" fill="#0000ff"/>
<path d="M194.74,497.64 L197.14,501.84 L192.34,501.84 Z" fill="#0000ff"/>
<rect x="43" y="372.6" width="170.5" height="142.2" fill="none" stroke="#111" stroke-width="1.4"/>
<line x1="46.5" y1="514.8" x2="46.5" y2="517.8" stroke="#111" stroke-width="1.15"/>
<line x1="83.56" y1="514.8" x2="83.56" y2="517.8" stroke="#111" stroke-width="1.15"/>
<line x1="120.62" y1="514.8" x2="120.62" y2="517.8" stroke="#111" stroke-width="1.15"/>
<line x1="157.68" y1="514.8" x2="157.68" y2="517.8" stroke="#111" stroke-width="1.15"/>
<line x1="194.74" y1="514.8" x2="194.74" y2="517.8" stroke="#111" stroke-width="1.15"/>
<line x1="65.03" y1="514.8" x2="65.03" y2="516.6" stroke="#111" stroke-width="1.15"/>
<line x1="102.09" y1="514.8" x2="102.09" y2="516.6" stroke="#111" stroke-width="1.15"/>
<line x1="139.15" y1="514.8" x2="139.15" y2="516.6" stroke="#111" stroke-width="1.15"/>
<line x1="176.21" y1="514.8" x2="176.21" y2="516.6" stroke="#111" stroke-width="1.15"/>
<line x1="43" y1="502.4" x2="39.7" y2="502.4" stroke="#111" stroke-width="1.15"/>
<line x1="43" y1="478.76" x2="39.7" y2="478.76" stroke="#111" stroke-width="1.15"/>
<line x1="43" y1="455.12" x2="39.7" y2="455.12" stroke="#111" stroke-width="1.15"/>
<line x1="43" y1="431.48" x2="39.7" y2="431.48" stroke="#111" stroke-width="1.15"/>
<line x1="43" y1="407.84" x2="39.7" y2="407.84" stroke="#111" stroke-width="1.15"/>
<line x1="43" y1="384.2" x2="39.7" y2="384.2" stroke="#111" stroke-width="1.15"/>
<line x1="43" y1="514.22" x2="41.2" y2="514.22" stroke="#111" stroke-width="1.15"/>
<line x1="43" y1="490.58" x2="41.2" y2="490.58" stroke="#111" stroke-width="1.15"/>
<line x1="43" y1="466.94" x2="41.2" y2="466.94" stroke="#111" stroke-width="1.15"/>
<line x1="43" y1="443.3" x2="41.2" y2="443.3" stroke="#111" stroke-width="1.15"/>
<line x1="43" y1="419.66" x2="41.2" y2="419.66" stroke="#111" stroke-width="1.15"/>
<line x1="43" y1="396.02" x2="41.2" y2="396.02" stroke="#111" stroke-width="1.15"/>
<text x="46.5" y="526.6" font-size="8.2" text-anchor="middle" font-weight="normal" fill="#3a3a3a" font-family="Liberation Serif" stroke="#3a3a3a" stroke-width="0.22">0</text>
<text x="83.56" y="526.6" font-size="8.2" text-anchor="middle" font-weight="normal" fill="#3a3a3a" font-family="Liberation Serif" stroke="#3a3a3a" stroke-width="0.22">2</text>
<text x="120.62" y="526.6" font-size="8.2" text-anchor="middle" font-weight="normal" fill="#3a3a3a" font-family="Liberation Serif" stroke="#3a3a3a" stroke-width="0.22">4</text>
<text x="157.68" y="526.6" font-size="8.2" text-anchor="middle" font-weight="normal" fill="#3a3a3a" font-family="Liberation Serif" stroke="#3a3a3a" stroke-width="0.22">6</text>
<text x="194.74" y="526.6" font-size="8.2" text-anchor="middle" font-weight="normal" fill="#3a3a3a" font-family="Liberation Serif" stroke="#3a3a3a" stroke-width="0.22">8</text>
<text x="38.3" y="505.3" font-size="8.5" text-anchor="end" font-weight="normal" fill="#3a3a3a" font-family="Liberation Serif" stroke="#3a3a3a" stroke-width="0.22">0.0</text>
<text x="38.3" y="481.66" font-size="8.5" text-anchor="end" font-weight="normal" fill="#3a3a3a" font-family="Liberation Serif" stroke="#3a3a3a" stroke-width="0.22">0.2</text>
<text x="38.3" y="458.02" font-size="8.5" text-anchor="end" font-weight="normal" fill="#3a3a3a" font-family="Liberation Serif" stroke="#3a3a3a" stroke-width="0.22">0.4</text>
<text x="38.3" y="434.38" font-size="8.5" text-anchor="end" font-weight="normal" fill="#3a3a3a" font-family="Liberation Serif" stroke="#3a3a3a" stroke-width="0.22">0.6</text>
<text x="38.3" y="410.74" font-size="8.5" text-anchor="end" font-weight="normal" fill="#3a3a3a" font-family="Liberation Serif" stroke="#3a3a3a" stroke-width="0.22">0.8</text>
<text x="38.3" y="387.1" font-size="8.5" text-anchor="end" font-weight="normal" fill="#3a3a3a" font-family="Liberation Serif" stroke="#3a3a3a" stroke-width="0.22">1.0</text>
<text x="128.7" y="541.6" font-size="9.7" text-anchor="middle" font-weight="normal" fill="#222" font-family="Liberation Serif" stroke="#222" stroke-width="0.22">Time (min)</text>
<text x="19" y="440.4" font-size="10" text-anchor="middle" font-weight="normal" fill="#222" font-family="Liberation Serif" transform="rotate(-90 19 440.4)" stroke="#222" stroke-width="0.22">C/Co</text>
<text x="168.7" y="395.6" font-size="9.2" text-anchor="start" font-weight="bold" fill="#000" font-family="Liberation Serif">ZnO</text>
<text x="124.7" y="468.1" font-size="9.7" text-anchor="start" font-weight="bold" fill="#000" font-family="Liberation Serif">CuO-ZnO</text>
<text x="73" y="500.2" font-size="9.6" text-anchor="start" font-weight="bold" fill="#000" font-family="Liberation Serif">rGO-ZnO/CuO</text>
<text x="258.1" y="385.8" font-size="12.4" text-anchor="start" font-weight="normal" fill="#000" font-family="Liberation Serif">F</text>
<path d="M295.8,392.9 L446.44,392.9" fill="none" stroke="#000" stroke-width="1.5" stroke-linejoin="round" stroke-linecap="round"/>
<path d="M295.8,387.57 L446.44,504.19" fill="none" stroke="#ff0000" stroke-width="1.6" stroke-linejoin="round" stroke-linecap="round"/>
<path d="M295.8,392.9 L446.44,510.27" fill="none" stroke="#0000ff" stroke-width="1.6" stroke-linejoin="round" stroke-linecap="round"/>
<rect x="293.95" y="391.05" width="3.7" height="3.7" fill="#000"/>
<rect x="350.44" y="390.42" width="3.7" height="3.7" fill="#000"/>
<rect x="406.93" y="390.11" width="3.7" height="3.7" fill="#000"/>
<rect x="444.59" y="391.68" width="3.7" height="3.7" fill="#000"/>
<circle cx="295.8" cy="392.9" r="1.97" fill="#ff0000"/>
<circle cx="352.29" cy="420.8" r="1.97" fill="#ff0000"/>
<circle cx="408.78" cy="475.98" r="1.97" fill="#ff0000"/>
<circle cx="446.44" cy="506.39" r="1.97" fill="#ff0000"/>
<path d="M295.8,390.5 L298.2,394.7 L293.4,394.7 Z" fill="#0000ff"/>
<path d="M352.29,434.7 L354.69,438.9 L349.89,438.9 Z" fill="#0000ff"/>
<path d="M408.78,480.16 L411.18,484.36 L406.38,484.36 Z" fill="#0000ff"/>
<path d="M446.44,507.12 L448.84,511.32 L444.04,511.32 Z" fill="#0000ff"/>
<rect x="292.4" y="377.4" width="172.8" height="141" fill="none" stroke="#111" stroke-width="1.4"/>
<line x1="295.8" y1="518.4" x2="295.8" y2="521.4" stroke="#111" stroke-width="1.15"/>
<line x1="333.46" y1="518.4" x2="333.46" y2="521.4" stroke="#111" stroke-width="1.15"/>
<line x1="371.12" y1="518.4" x2="371.12" y2="521.4" stroke="#111" stroke-width="1.15"/>
<line x1="408.78" y1="518.4" x2="408.78" y2="521.4" stroke="#111" stroke-width="1.15"/>
<line x1="446.44" y1="518.4" x2="446.44" y2="521.4" stroke="#111" stroke-width="1.15"/>
<line x1="314.63" y1="518.4" x2="314.63" y2="520.2" stroke="#111" stroke-width="1.15"/>
<line x1="352.29" y1="518.4" x2="352.29" y2="520.2" stroke="#111" stroke-width="1.15"/>
<line x1="389.95" y1="518.4" x2="389.95" y2="520.2" stroke="#111" stroke-width="1.15"/>
<line x1="427.61" y1="518.4" x2="427.61" y2="520.2" stroke="#111" stroke-width="1.15"/>
<line x1="292.4" y1="518.3" x2="289.2" y2="518.3" stroke="#111" stroke-width="1.15"/>
<line x1="292.4" y1="502.62" x2="289.2" y2="502.62" stroke="#111" stroke-width="1.15"/>
<line x1="292.4" y1="486.95" x2="289.2" y2="486.95" stroke="#111" stroke-width="1.15"/>
<line x1="292.4" y1="471.27" x2="289.2" y2="471.27" stroke="#111" stroke-width="1.15"/>
<line x1="292.4" y1="455.6" x2="289.2" y2="455.6" stroke="#111" stroke-width="1.15"/>
<line x1="292.4" y1="439.92" x2="289.2" y2="439.92" stroke="#111" stroke-width="1.15"/>
<line x1="292.4" y1="424.25" x2="289.2" y2="424.25" stroke="#111" stroke-width="1.15"/>
<line x1="292.4" y1="408.57" x2="289.2" y2="408.57" stroke="#111" stroke-width="1.15"/>
<line x1="292.4" y1="392.9" x2="289.2" y2="392.9" stroke="#111" stroke-width="1.15"/>
<line x1="292.4" y1="377.22" x2="289.2" y2="377.22" stroke="#111" stroke-width="1.15"/>
<line x1="292.4" y1="510.46" x2="290.6" y2="510.46" stroke="#111" stroke-width="1.15"/>
<line x1="292.4" y1="494.79" x2="290.6" y2="494.79" stroke="#111" stroke-width="1.15"/>
<line x1="292.4" y1="479.11" x2="290.6" y2="479.11" stroke="#111" stroke-width="1.15"/>
<line x1="292.4" y1="463.44" x2="290.6" y2="463.44" stroke="#111" stroke-width="1.15"/>
<line x1="292.4" y1="447.76" x2="290.6" y2="447.76" stroke="#111" stroke-width="1.15"/>
<line x1="292.4" y1="432.09" x2="290.6" y2="432.09" stroke="#111" stroke-width="1.15"/>
<line x1="292.4" y1="416.41" x2="290.6" y2="416.41" stroke="#111" stroke-width="1.15"/>
<line x1="292.4" y1="400.74" x2="290.6" y2="400.74" stroke="#111" stroke-width="1.15"/>
<line x1="292.4" y1="385.06" x2="290.6" y2="385.06" stroke="#111" stroke-width="1.15"/>
<text x="295.8" y="529.6" font-size="8.2" text-anchor="middle" font-weight="normal" fill="#3a3a3a" font-family="Liberation Serif" stroke="#3a3a3a" stroke-width="0.22">0</text>
<text x="333.46" y="529.6" font-size="8.2" text-anchor="middle" font-weight="normal" fill="#3a3a3a" font-family="Liberation Serif" stroke="#3a3a3a" stroke-width="0.22">2</text>
<text x="371.12" y="529.6" font-size="8.2" text-anchor="middle" font-weight="normal" fill="#3a3a3a" font-family="Liberation Serif" stroke="#3a3a3a" stroke-width="0.22">4</text>
<text x="408.78" y="529.6" font-size="8.2" text-anchor="middle" font-weight="normal" fill="#3a3a3a" font-family="Liberation Serif" stroke="#3a3a3a" stroke-width="0.22">6</text>
<text x="446.44" y="529.6" font-size="8.2" text-anchor="middle" font-weight="normal" fill="#3a3a3a" font-family="Liberation Serif" stroke="#3a3a3a" stroke-width="0.22">8</text>
<text x="287.4" y="520.7" font-size="7.0" text-anchor="end" font-weight="normal" fill="#3a3a3a" font-family="Liberation Serif" stroke="#3a3a3a" stroke-width="0.22">-4.0</text>
<text x="287.4" y="505.02" font-size="7.0" text-anchor="end" font-weight="normal" fill="#3a3a3a" font-family="Liberation Serif" stroke="#3a3a3a" stroke-width="0.22">-3.5</text>
<text x="287.4" y="489.35" font-size="7.0" text-anchor="end" font-weight="normal" fill="#3a3a3a" font-family="Liberation Serif" stroke="#3a3a3a" stroke-width="0.22">-3.0</text>
<text x="287.4" y="473.67" font-size="7.0" text-anchor="end" font-weight="normal" fill="#3a3a3a" font-family="Liberation Serif" stroke="#3a3a3a" stroke-width="0.22">-2.5</text>
<text x="287.4" y="458" font-size="7.0" text-anchor="end" font-weight="normal" fill="#3a3a3a" font-family="Liberation Serif" stroke="#3a3a3a" stroke-width="0.22">-2.0</text>
<text x="287.4" y="442.32" font-size="7.0" text-anchor="end" font-weight="normal" fill="#3a3a3a" font-family="Liberation Serif" stroke="#3a3a3a" stroke-width="0.22">-1.5</text>
<text x="287.4" y="426.65" font-size="7.0" text-anchor="end" font-weight="normal" fill="#3a3a3a" font-family="Liberation Serif" stroke="#3a3a3a" stroke-width="0.22">-1.0</text>
<text x="287.4" y="410.97" font-size="7.0" text-anchor="end" font-weight="normal" fill="#3a3a3a" font-family="Liberation Serif" stroke="#3a3a3a" stroke-width="0.22">-0.5</text>
<text x="287.4" y="395.3" font-size="7.0" text-anchor="end" font-weight="normal" fill="#3a3a3a" font-family="Liberation Serif" stroke="#3a3a3a" stroke-width="0.22">0.0</text>
<text x="287.4" y="379.62" font-size="7.0" text-anchor="end" font-weight="normal" fill="#3a3a3a" font-family="Liberation Serif" stroke="#3a3a3a" stroke-width="0.22">0.5</text>
<text x="379" y="544.5" font-size="9.4" text-anchor="middle" font-weight="normal" fill="#222" font-family="Liberation Serif" stroke="#222" stroke-width="0.22">Time (min)</text>
<text x="269.5" y="443.7" font-size="9.4" text-anchor="middle" font-weight="normal" fill="#222" font-family="Liberation Serif" transform="rotate(-90 269.5 443.7)" stroke="#222" stroke-width="0.22">ln(C/Co)</text>
<text x="387.6" y="406" font-size="9.7" text-anchor="start" font-weight="bold" fill="#000" font-family="Liberation Serif">ZnO</text>
<text x="382.4" y="417" font-size="8.8" font-weight="bold" font-family="Liberation Serif">k=2.6×10<tspan font-size="7.6" dy="-4.3">−4</tspan><tspan dy="4.3"> min</tspan><tspan font-size="7.6" dy="-4.3">−1</tspan></text>
<text x="386.8" y="455.6" font-size="9.7" text-anchor="start" font-weight="bold" fill="#000" font-family="Liberation Serif">CuO-ZnO</text>
<text x="402.5" y="467" font-size="8.8" font-weight="bold" font-family="Liberation Serif">k=0.465 min<tspan font-size="7.6" dy="-4.3">−1</tspan></text>
<text x="335.7" y="489.7" font-size="9.4" text-anchor="start" font-weight="bold" fill="#000" font-family="Liberation Serif">rGO-ZnO/CuO</text>
<text x="361.3" y="502.5" font-size="8.8" font-weight="bold" font-family="Liberation Serif">k=0.468 min<tspan font-size="7.6" dy="-4.3">−1</tspan></text>
<rect x="0" y="544.4" width="475" height="6" fill="#fff"/>
</svg>
</body></html>
